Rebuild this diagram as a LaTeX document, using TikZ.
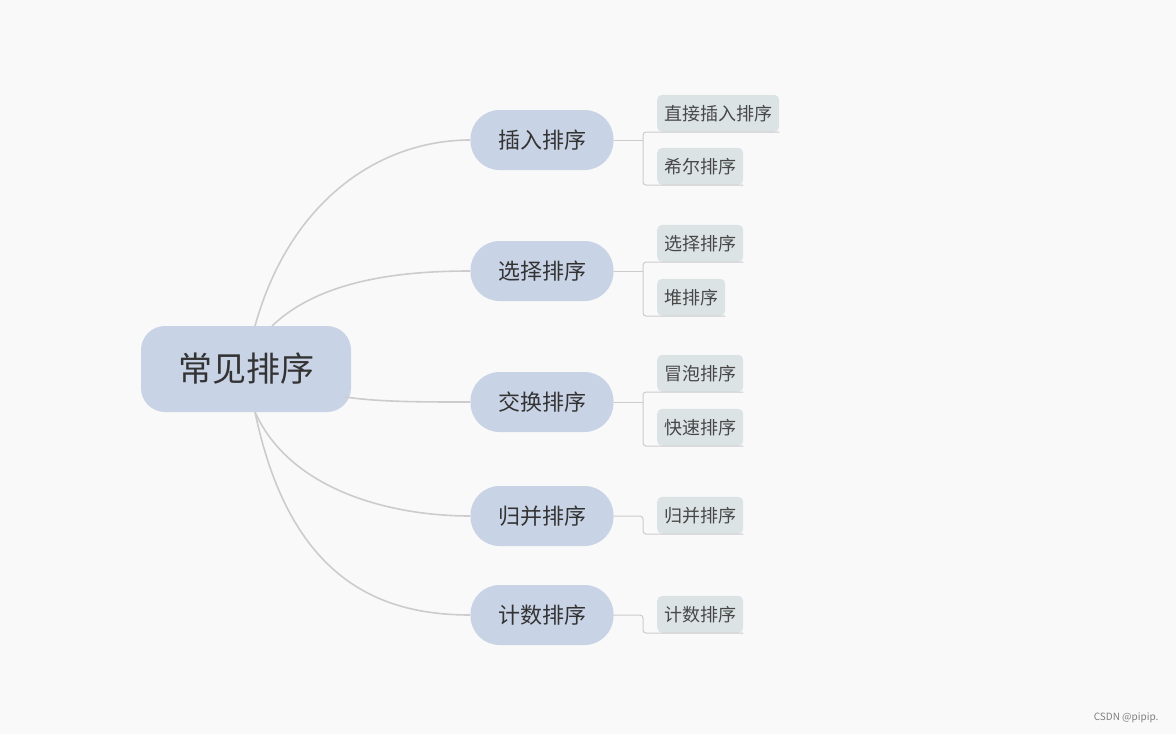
\documentclass[tikz,border=0pt]{standalone}
\usepackage{fontspec}
\setmainfont{Noto Sans CJK SC}
\usetikzlibrary{positioning}
\definecolor{bgcol}{HTML}{F9F9F9}
\definecolor{rootcol}{HTML}{C9D3E6}
\definecolor{leafcol}{HTML}{DCE3E5}
\definecolor{linecol}{HTML}{CCCCCC}
\definecolor{txtcol}{HTML}{333333}

\begin{document}
\begin{tikzpicture}[x=1pt, y=-1pt,
		  % root topic
		  root/.style={rectangle, rounded corners=24pt, fill=rootcol, text=txtcol,
		    minimum width=210pt, minimum height=86pt, font=\fontsize{34}{36}\selectfont},
		  % main branches
		  branch/.style={rectangle, rounded corners=29pt, fill=rootcol, text=txtcol,
		    minimum width=143pt, minimum height=60pt, font=\fontsize{22}{24}\selectfont},
		  % leaf topics
		  leaf/.style={rectangle, rounded corners=5pt, fill=leafcol, text=txtcol!90,
		    minimum height=37pt, inner xsep=7pt, anchor=south west, font=\fontsize{18}{20}\selectfont},
		  % connectors
		  link/.style={draw=linecol, line width=1.6pt},
		  tie/.style={draw=linecol, line width=1pt, rounded corners=3pt}
		  ]
		  \fill[bgcol] (0,0) rectangle (1176,734);

		  % root
		  \node[root] (root) at (246,369) {常见排序};

		  % main branches
		  \foreach \i/\y/\txt in {1/140/插入排序, 2/271/选择排序, 3/402/交换排序, 4/516/归并排序, 5/615/计数排序} {
		    \node[branch] (b\i) at (542,\y) {\txt};
		  }

		  % curves from the root
		  \draw[link] (255,326) .. controls (290,200) and (380,140) .. (b1.west);
		  \draw[link] (272,326) .. controls (320,280) and (400,271) .. (b2.west);
		  \draw[link] (345,397) .. controls (380,402) and (420,402) .. (b3.west);
		  \draw[link] (255,412) .. controls (290,490) and (390,516) .. (b4.west);
		  \draw[link] (255,412) .. controls (290,580) and (380,615) .. (b5.west);

		  % leaves
		  \node[leaf] (l1a) at (657,132) {直接插入排序};
		  \node[leaf] (l1b) at (657,185) {希尔排序};
		  \node[leaf] (l2a) at (657,262) {选择排序};
		  \node[leaf] (l2b) at (657,316) {堆排序};
		  \node[leaf] (l3a) at (657,392) {冒泡排序};
		  \node[leaf] (l3b) at (657,446) {快速排序};
		  \node[leaf] (l4a) at (657,534) {归并排序};
		  \node[leaf] (l5a) at (657,633) {计数排序};

		  % ties between branches and leaves
		  \coordinate (tx) at (643,0);
		  \foreach \b in {1,2,3} {
		    \draw[tie] (b\b.east) -- (b\b.east -| tx);
		    \draw[tie] (l\b a.south east) -- (l\b a.south west -| tx) -- (l\b b.south west -| tx) -- (l\b b.south east);
		  }
		  \draw[tie] (b4.east) -- (b4.east -| tx) -- (l4a.south west -| tx) -- (l4a.south east);
		  \draw[tie] (b5.east) -- (b5.east -| tx) -- (l5a.south west -| tx) -- (l5a.south east);

		  % watermark
		  \node[text=gray, font=\fontsize{10}{12}\selectfont, anchor=east] (mark) at (1162,718) {CSDN @pipip.};
    \end{tikzpicture}
\end{document}
